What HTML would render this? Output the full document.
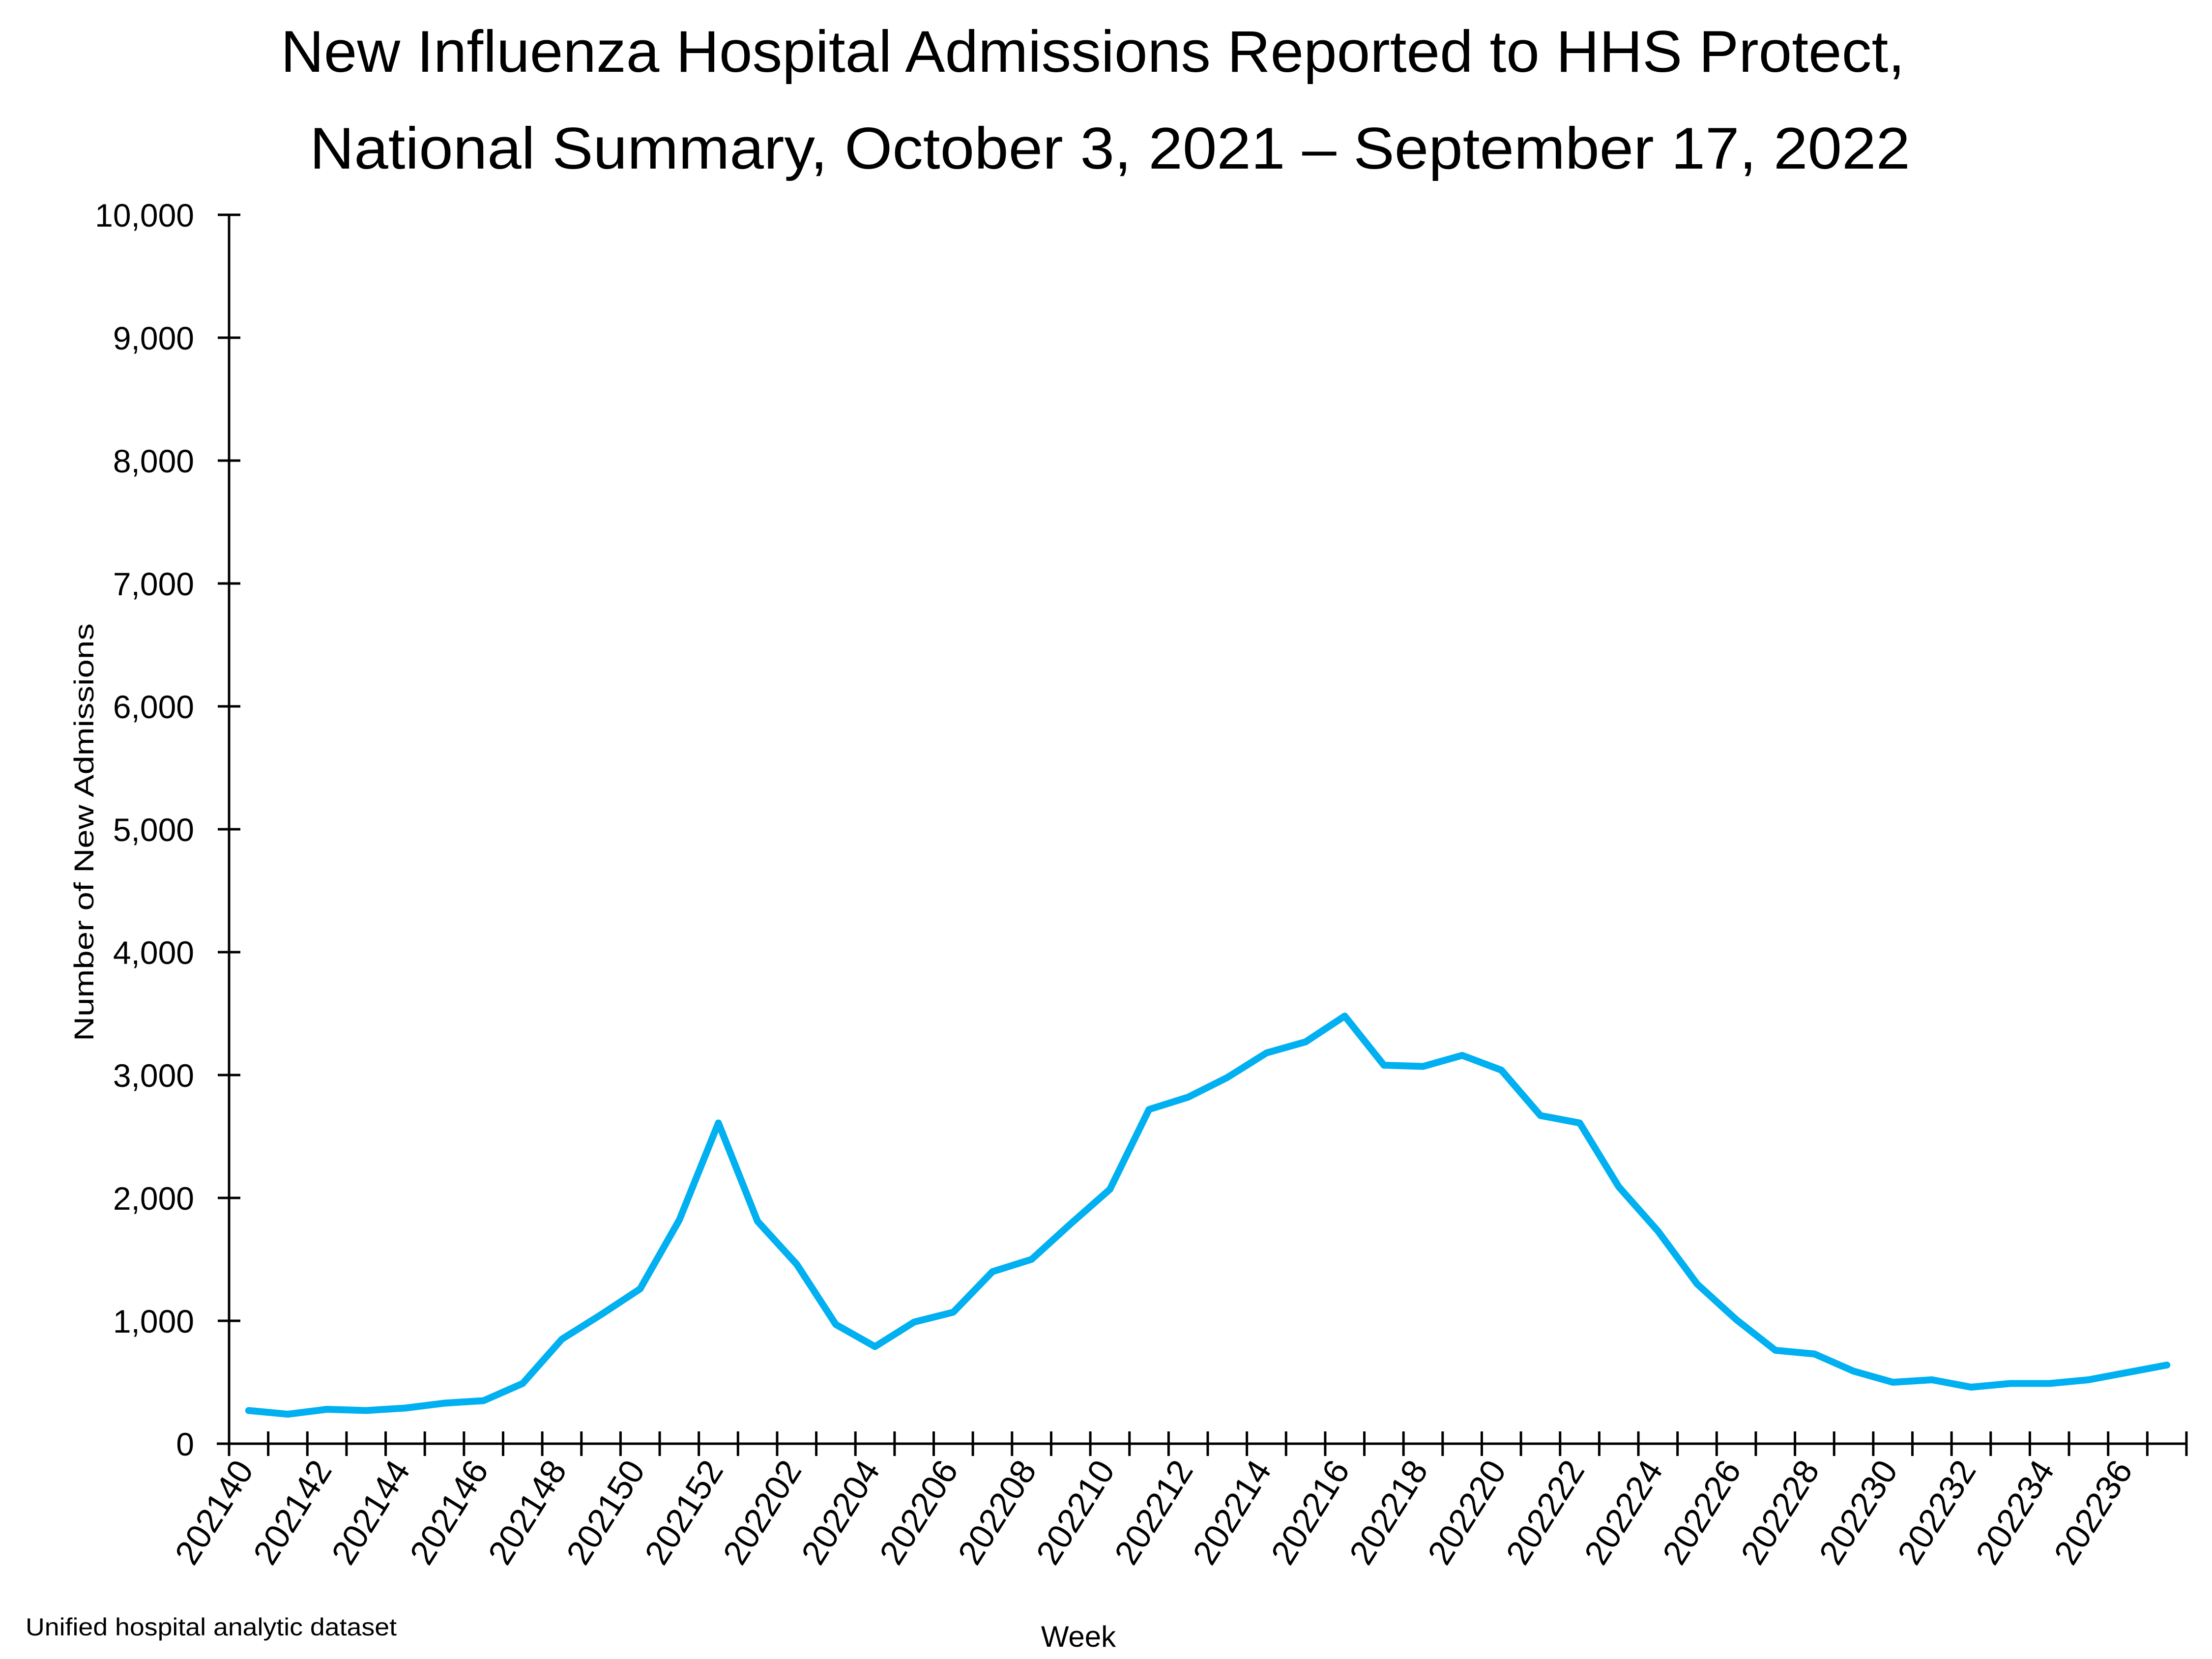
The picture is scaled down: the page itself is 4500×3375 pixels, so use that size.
<!DOCTYPE html>
<html><head><meta charset="utf-8"><style>html,body{margin:0;padding:0;background:#fff}svg{display:block}</style></head>
<body>
<svg xmlns="http://www.w3.org/2000/svg" width="4500" height="3375" viewBox="0 0 4500 3375" font-family="Liberation Sans, sans-serif">
<rect width="4500" height="3375" fill="#fff"/>
<text x="571" y="146" font-size="120" textLength="3304" lengthAdjust="spacingAndGlyphs">New Influenza Hospital Admissions Reported to HHS Protect,</text>
<text x="630" y="343" font-size="120" textLength="3256" lengthAdjust="spacingAndGlyphs">National Summary, October 3, 2021 – September 17, 2022</text>
<g stroke="#000" stroke-width="5" fill="none">
<line x1="466" y1="437" x2="466" y2="2937"/>
<line x1="441" y1="2937" x2="4448" y2="2937"/>
<line x1="463.5" y1="2937" x2="4452" y2="2937" stroke-width="50" stroke-dasharray="5 74.64"/>
<line x1="443" y1="2937" x2="489" y2="2937"/>
<line x1="443" y1="2687" x2="489" y2="2687"/>
<line x1="443" y1="2437" x2="489" y2="2437"/>
<line x1="443" y1="2187" x2="489" y2="2187"/>
<line x1="443" y1="1937" x2="489" y2="1937"/>
<line x1="443" y1="1687" x2="489" y2="1687"/>
<line x1="443" y1="1437" x2="489" y2="1437"/>
<line x1="443" y1="1187" x2="489" y2="1187"/>
<line x1="443" y1="937" x2="489" y2="937"/>
<line x1="443" y1="687" x2="489" y2="687"/>
<line x1="443" y1="437" x2="489" y2="437"/>
</g>
<g font-size="66" text-anchor="end">
<text x="395" y="2961">0</text>
<text x="395" y="2711">1,000</text>
<text x="395" y="2461">2,000</text>
<text x="395" y="2211">3,000</text>
<text x="395" y="1961">4,000</text>
<text x="395" y="1711">5,000</text>
<text x="395" y="1461">6,000</text>
<text x="395" y="1211">7,000</text>
<text x="395" y="961">8,000</text>
<text x="395" y="711">9,000</text>
<text x="395" y="461">10,000</text>
</g>
<g font-size="70" text-anchor="end">
<text transform="translate(517.8,2990) rotate(-58)">202140</text>
<text transform="translate(677.1,2990) rotate(-58)">202142</text>
<text transform="translate(836.4,2990) rotate(-58)">202144</text>
<text transform="translate(995.7,2990) rotate(-58)">202146</text>
<text transform="translate(1154.9,2990) rotate(-58)">202148</text>
<text transform="translate(1314.2,2990) rotate(-58)">202150</text>
<text transform="translate(1473.5,2990) rotate(-58)">202152</text>
<text transform="translate(1632.8,2990) rotate(-58)">202202</text>
<text transform="translate(1792.1,2990) rotate(-58)">202204</text>
<text transform="translate(1951.3,2990) rotate(-58)">202206</text>
<text transform="translate(2110.6,2990) rotate(-58)">202208</text>
<text transform="translate(2269.9,2990) rotate(-58)">202210</text>
<text transform="translate(2429.2,2990) rotate(-58)">202212</text>
<text transform="translate(2588.5,2990) rotate(-58)">202214</text>
<text transform="translate(2747.7,2990) rotate(-58)">202216</text>
<text transform="translate(2907.0,2990) rotate(-58)">202218</text>
<text transform="translate(3066.3,2990) rotate(-58)">202220</text>
<text transform="translate(3225.6,2990) rotate(-58)">202222</text>
<text transform="translate(3384.9,2990) rotate(-58)">202224</text>
<text transform="translate(3544.1,2990) rotate(-58)">202226</text>
<text transform="translate(3703.4,2990) rotate(-58)">202228</text>
<text transform="translate(3862.7,2990) rotate(-58)">202230</text>
<text transform="translate(4022.0,2990) rotate(-58)">202232</text>
<text transform="translate(4181.3,2990) rotate(-58)">202234</text>
<text transform="translate(4340.5,2990) rotate(-58)">202236</text>
</g>
<polyline fill="none" stroke="#00B0F0" stroke-width="14" stroke-linejoin="round" stroke-linecap="round" points="505.8,2869.5 585.5,2877 665.1,2867 744.7,2869.5 824.4,2864.5 904.0,2854.5 983.7,2849.5 1063.3,2814.5 1142.9,2724.5 1222.6,2674.5 1302.2,2622 1381.9,2482 1461.5,2284.5 1541.1,2484.5 1620.8,2572 1700.4,2694.5 1780.1,2739.5 1859.7,2689.5 1939.3,2669.5 2019.0,2587 2098.6,2562 2178.3,2489.5 2257.9,2419.5 2337.5,2257 2417.2,2232 2496.8,2192 2576.5,2142 2656.1,2119.5 2735.7,2067 2815.4,2167 2895.0,2169.5 2974.7,2147 3054.3,2177 3133.9,2269.5 3213.6,2284.5 3293.2,2414.5 3372.9,2504.5 3452.5,2612 3532.1,2684.5 3611.8,2747 3691.4,2754.5 3771.1,2789.5 3850.7,2812 3930.3,2807 4010.0,2822 4089.6,2814.5 4169.3,2814.5 4248.9,2807 4328.5,2792 4408.2,2777"/>
<text transform="translate(190,1693) rotate(-90)" font-size="56" text-anchor="middle" textLength="850" lengthAdjust="spacingAndGlyphs">Number of New Admissions</text>
<text x="2194" y="3350" font-size="60" text-anchor="middle">Week</text>
<text x="52" y="3327" font-size="50" textLength="755" lengthAdjust="spacingAndGlyphs">Unified hospital analytic dataset</text>
</svg>
</body></html>
